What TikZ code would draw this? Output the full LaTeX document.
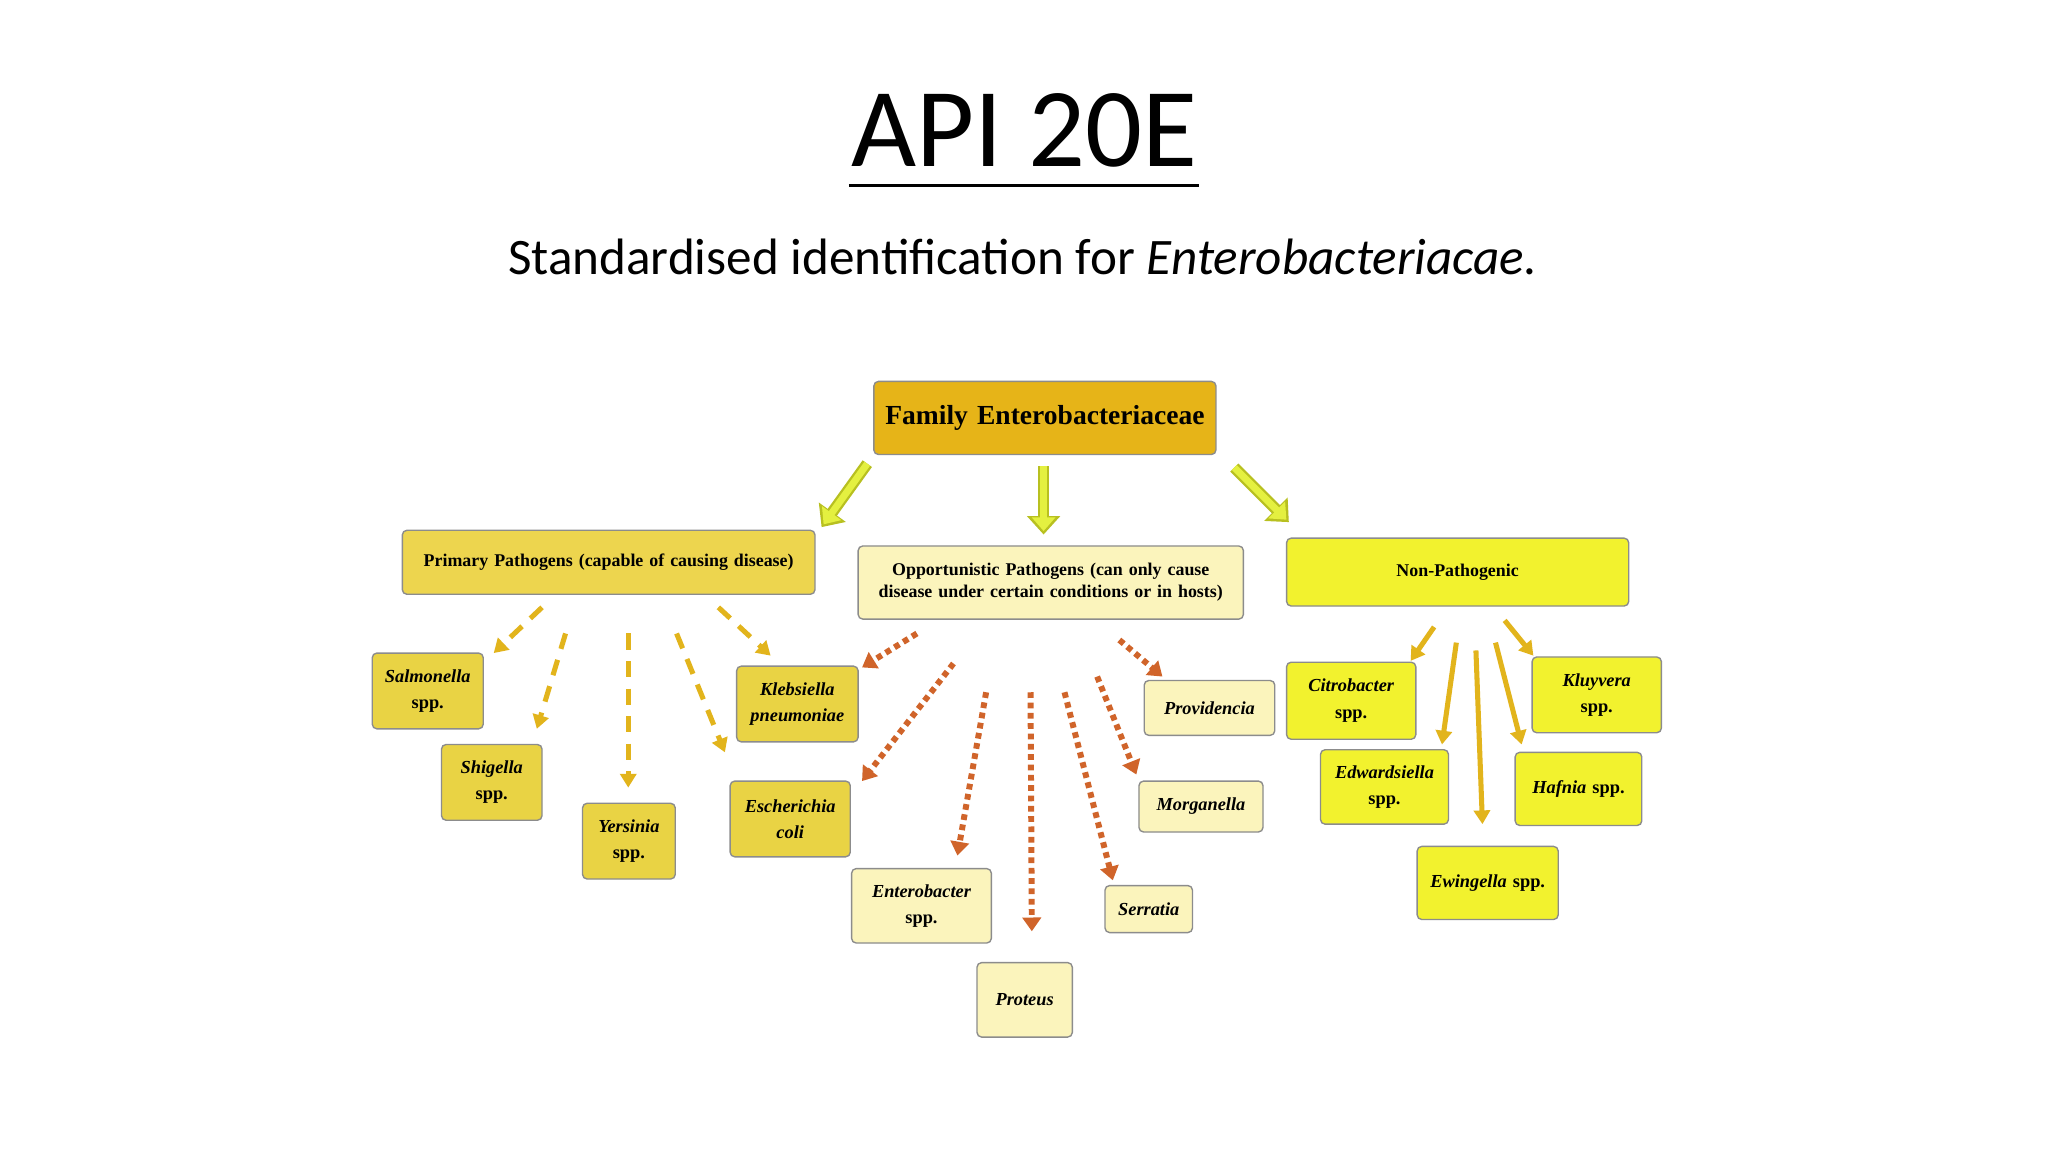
\documentclass[tikz,border=0pt]{standalone}
\usepackage{fontspec}
\setmainfont{Liberation Serif}
\newfontfamily\carlitofont{Carlito}
\usetikzlibrary{arrows.meta}
\definecolor{famc}{HTML}{E6B418}
\definecolor{prim}{HTML}{EDD54E}
\definecolor{opp}{HTML}{FBF4BC}
\definecolor{nonp}{HTML}{F2F22E}
\definecolor{leafp}{HTML}{E9D344}
\definecolor{dashc}{HTML}{E2B41C}
\definecolor{dotc}{HTML}{D0642A}
\definecolor{topar}{HTML}{E4F040}
\definecolor{topedge}{HTML}{B8C020}
\tikzset{
 bxs/.style={draw=black!45, line width=0.6pt, rounded corners=2pt, inner sep=1pt, align=center, font=\bfseries\itshape\fontsize{8}{9.5}\selectfont},
 toparrow/.style={draw=topedge, line width=5pt, -{Triangle[length=8pt,width=14pt]}, shorten >=1pt},
 toparrowin/.style={draw=topar, line width=3pt, -{Triangle[length=6pt,width=10pt]}, shorten >=2.5pt},
 dasharr/.style={draw=dashc, line width=2.2pt, dash pattern=on 7pt off 5pt, -{Triangle[length=6pt,width=7pt]}},
 dotarr/.style={draw=dotc, line width=2.6pt, dash pattern=on 2.5pt off 2pt, -{Triangle[length=6pt,width=8pt]}},
 solarr/.style={draw=dashc, line width=2.2pt, -{Triangle[length=6pt,width=7pt]}},
}
\newcommand\bx[7]{\node[bxs,#6,minimum width=\fpeval{(#4-#2)*0.02}cm,minimum height=\fpeval{(#5-#3)*0.02}cm,text width=\fpeval{(#4-#2)*0.02-0.1}cm] (#1) at ({(#2+#4)/2},{(#3+#5)/2}) {#7};}
\begin{document}
\begin{tikzpicture}[x=0.02cm,y=-0.02cm]
\useasboundingbox (0,0) rectangle (1568,882);
\fill[white] (0,0) rectangle (1568,882);
\node[font=\carlitofont\fontsize{49}{56}\selectfont] (title) at (784,100) {API 20E};
\draw[line width=1.4pt] (650,142) -- (918,142);
\node[font=\carlitofont\fontsize{22.3}{26}\selectfont] (sub) at (783,197) {Standardised identification for \textit{Enterobacteriacae.}};
% main boxes
\bx{fam}{669}{292}{931}{348}{fill=famc,font=\bfseries\fontsize{12}{14}\selectfont}{Family Enterobacteriaceae}
\bx{pri}{308}{406}{624}{455}{fill=prim,font=\bfseries\fontsize{7.8}{9}\selectfont}{Primary Pathogens (capable of causing disease)}
\bx{opp}{657}{418}{952}{474}{fill=opp,font=\bfseries\fontsize{7.8}{9.5}\selectfont}{Opportunistic Pathogens (can only cause disease under certain conditions or in hosts)}
\bx{non}{985}{412}{1247}{464}{fill=nonp,font=\bfseries\fontsize{7.8}{9}\selectfont}{Non-Pathogenic}
% primary leaves
\bx{sal}{285}{500}{370}{558}{fill=leafp}{Salmonella\\[2pt]\upshape spp.\\[6pt]}
\bx{shi}{338}{570}{415}{628}{fill=leafp}{Shigella\\[2pt]\upshape spp.\\[6pt]}
\bx{yer}{446}{615}{517}{673}{fill=leafp}{Yersinia\\[2pt]\upshape spp.\\[6pt]}
\bx{kle}{564}{510}{657}{568}{fill=leafp}{Klebsiella\\[2pt]pneumoniae\\[4pt]}
\bx{esc}{559}{598}{651}{656}{fill=leafp}{Escherichia\\[2pt]coli\\[4pt]}
% opportunistic leaves
\bx{ent}{652}{665}{759}{722}{fill=opp}{Enterobacter\\[2pt]\upshape spp.\\[6pt]}
\bx{pro}{748}{737}{821}{794}{fill=opp}{Proteus\\[12pt]}
\bx{ser}{846}{678}{913}{714}{fill=opp}{Serratia\\[4pt]}
\bx{mor}{872}{598}{967}{637}{fill=opp}{Morganella\\[6pt]}
\bx{prv}{876}{521}{976}{563}{fill=opp}{Providencia\\[8pt]}
% non-pathogenic leaves
\bx{cit}{985}{507}{1084}{566}{fill=nonp}{Citrobacter\\[2pt]\upshape spp.\\[6pt]}
\bx{edw}{1011}{574}{1109}{631}{fill=nonp}{Edwardsiella\\[2pt]\upshape spp.\\[6pt]}
\bx{ewi}{1085}{648}{1193}{704}{fill=nonp}{Ewingella \upshape spp.\\[6pt]}
\bx{haf}{1160}{576}{1257}{632}{fill=nonp}{Hafnia \upshape spp.\\[6pt]}
\bx{klu}{1173}{503}{1272}{561}{fill=nonp}{Kluyvera\\[2pt]\upshape spp.\\[6pt]}
% top arrows
\coordinate (t1) at (664,355); \coordinate (t2) at (799,357); \coordinate (t3) at (945,358);
\coordinate (h1) at (628,405); \coordinate (h2) at (799,411); \coordinate (h3) at (988,401);
\foreach \a/\b in {t1/h1,t2/h2,t3/h3}{
 \draw[toparrow] (\a) -- (\b);
 \draw[toparrowin] (\a) -- (\b);
}
% primary arrows
\draw[dasharr] (415,465) coordinate (p1) -- (378,500) coordinate (q1);
\draw[dasharr] (433,485) coordinate (p2) -- (411,558) coordinate (q2);
\draw[dasharr] (481,485) coordinate (p3) -- (481,603) coordinate (q3);
\draw[dasharr] (518,485) coordinate (p4) -- (555,576) coordinate (q4);
\draw[dasharr] (550,465) coordinate (p5) -- (590,502) coordinate (q5);
% opportunistic arrows
\draw[dotarr] (702,485) coordinate (o1) -- (660,511) coordinate (r1);
\draw[dotarr] (730,508) coordinate (o2) -- (660,598) coordinate (r2);
\draw[dotarr] (755,530) coordinate (o3) -- (733,655) coordinate (r3);
\draw[dotarr] (789,530) coordinate (o4) -- (790,713) coordinate (r4);
\draw[dotarr] (815,530) coordinate (o5) -- (852,674) coordinate (r5);
\draw[dotarr] (840,518) coordinate (o6) -- (870,593) coordinate (r6);
\draw[dotarr] (857,490) coordinate (o7) -- (890,518) coordinate (r7);
% non-pathogenic arrows
\draw[solarr] (1098,480) coordinate (n1) -- (1080,506) coordinate (m1);
\draw[solarr] (1115,492) coordinate (n2) -- (1104,570) coordinate (m2);
\draw[solarr] (1130,498) coordinate (n3) -- (1135,631) coordinate (m3);
\draw[solarr] (1145,492) coordinate (n4) -- (1165,570) coordinate (m4);
\draw[solarr] (1152,475) coordinate (n5) -- (1174,502) coordinate (m5);
\end{tikzpicture}
\end{document}
